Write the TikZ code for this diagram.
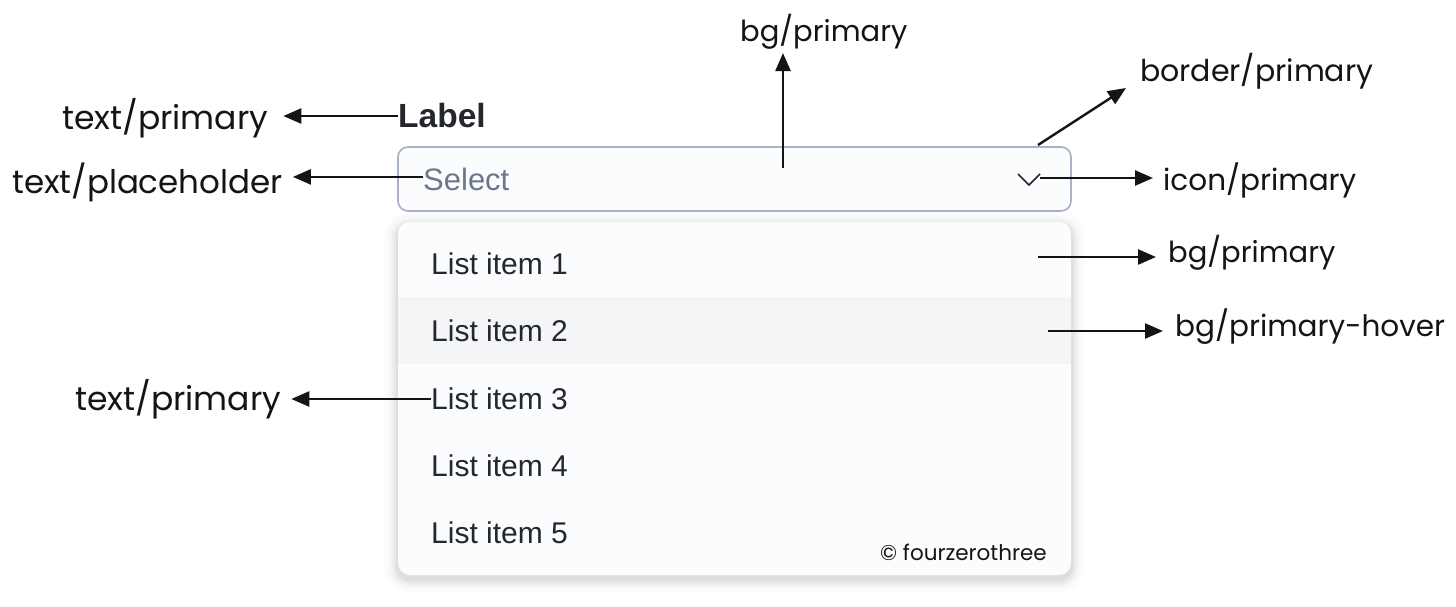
\documentclass[tikz,border=0pt]{standalone}
\usepackage{fontspec}
\setmainfont{Liberation Sans}
\newfontfamily\hand{Poppins}
\usetikzlibrary{arrows.meta}
\definecolor{boxborder}{HTML}{A7B2C4}
\definecolor{boxfill}{HTML}{FBFCFE}
\definecolor{hoverfill}{HTML}{F4F5F7}
\definecolor{placeholder}{HTML}{6A778C}
\definecolor{itemtext}{HTML}{24272C}
\definecolor{ink}{HTML}{141414}
\tikzset{
  ann/.style={font=\hand\fontsize{#1}{#1}\selectfont, text=ink, inner sep=0pt, anchor=base west},
  ann/.default=30,
  item/.style={font=\fontsize{30}{33}\selectfont, text=itemtext, inner sep=0pt, anchor=base west},
  arr/.style={draw=ink, line width=2.4pt, -{Triangle[length=18pt,width=15pt]}},
}
\begin{document}
\begin{tikzpicture}[x=1pt,y=-1pt]
\useasboundingbox[fill=white] (0,0) rectangle (1456,607);

% label and select box
\node[font=\bfseries\fontsize{33.5}{36}\selectfont, text=itemtext, inner sep=0pt, anchor=base west] (lbl) at (398,128) {Label};
\draw[boxborder, fill=boxfill, line width=1.6pt, rounded corners=10pt] (398,147) rectangle (1071,211);
\node[font=\fontsize{31}{33}\selectfont, text=placeholder, inner sep=0pt, anchor=base west] (sel) at (423,190) {Select};
\draw[itemtext, line width=1.5pt] (1018,174) -- (1029,185) -- (1040,174);
\coordinate (chev) at (1040,178);
\coordinate (boxmid) at (783,168);
\coordinate (boxedge) at (1038,145);

% dropdown panel with soft shadow
\foreach \d/\o in {14/0.01,11/0.013,8/0.018,6/0.022,4/0.028,2/0.035}{
  \fill[black, opacity=\o, rounded corners=12pt+\d pt] (398-\d,222-\d+4) rectangle (1071+\d,575+\d+4);
}
\fill[boxfill, rounded corners=12pt] (398,222) rectangle (1071,575);
\fill[hoverfill] (398,297) rectangle (1071,364);

\node[item] (i1) at (431,274) {List item 1};
\node[item] (i2) at (431,341) {List item 2};
\node[item] (i3) at (431,409) {List item 3};
\node[item] (i4) at (431,476) {List item 4};
\node[item] (i5) at (431,543) {List item 5};
\coordinate (r1) at (1038,257);
\coordinate (r2) at (1048,331);

\node[font=\hand\fontsize{21.5}{23}\selectfont, text=ink, inner sep=0pt, anchor=base west] (copy) at (880,560) {\textcopyright{} fourzerothree};

% annotations
\node[ann=29] (aTop) at (740,42) {bg/primary};
\node[ann=30] (aBorder) at (1140,82) {border/primary};
\node[ann=33] (aLabel) at (62,130) {text/primary};
\node[ann=32.5] (aPh) at (12,193) {text/placeholder};
\node[ann=29.5] (aIcon) at (1163,190) {icon/primary};
\node[ann=29] (aBg) at (1168,262) {bg/primary};
\node[ann=29.5] (aHover) at (1175,336) {bg/primary-hover};
\node[ann=33] (aItem) at (75,410) {text/primary};

% connectors
\draw[arr] (boxmid) -- ([yshift=-3pt]boxmid |- aTop.south);
\draw[arr] (boxedge) -- ([xshift=-14pt,yshift=2pt]aBorder.south west);
\draw[arr] (lbl.west) -- ([xshift=15pt]aLabel.east |- lbl.west);
\draw[arr] ([yshift=2pt]sel.west) -- ([xshift=10pt,yshift=2pt]aPh.east |- sel.west);
\draw[arr] (chev) -- ([xshift=-10pt]aIcon.west |- chev);
\draw[arr] (r1) -- ([xshift=-12pt]aBg.west |- r1);
\draw[arr] (r2) -- ([xshift=-12pt]aHover.west |- r2);
\draw[arr] (i3.west |- 0,399) -- ([xshift=10pt]aItem.east |- 0,399);
\end{tikzpicture}
\end{document}
